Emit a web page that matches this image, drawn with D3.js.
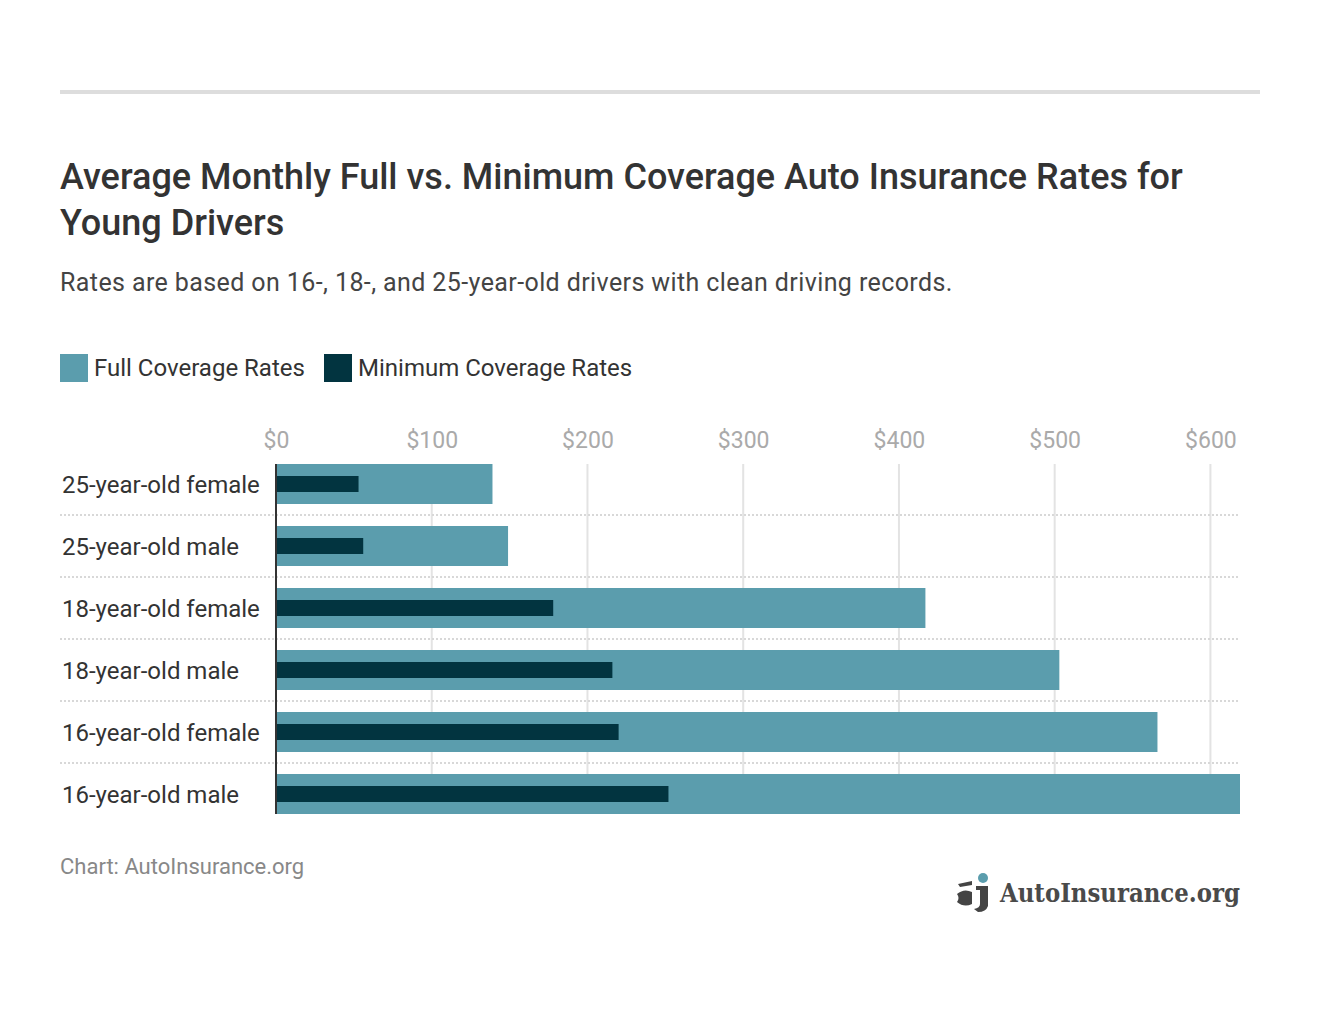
<!DOCTYPE html>
<html>
<head>
<meta charset="utf-8">
<script src="https://cdn.jsdelivr.net/npm/d3@7"></script>
<style>
  body { margin: 0; background: #fff; }
  text { font-family: Roboto, "Noto Sans", sans-serif; }
</style>
</head>
<body>
<div id="chart"></div>
<script>
// chart data
var categories = ["25-year-old female", "25-year-old male", "18-year-old female",
    "18-year-old male", "16-year-old female", "16-year-old male"];
var fullRates = [139, 149, 417, 503, 566, 619];
var minRates = [53, 56, 178, 216, 220, 252];
var tickValues = [0, 100, 200, 300, 400, 500, 600];
var seriesNames = ["Full Coverage Rates", "Minimum Coverage Rates"];

var svgWidth = 1320;
var svgHeight = 1024;

var margin = { top: 464, right: 80, bottom: 210, left: 276 };
var chartWidth = svgWidth - margin.left - margin.right;
var chartHeight = svgHeight - margin.top - margin.bottom;

var fullColor = "#5b9dad";
var minColor = "#023440";

var svg = d3.select("#chart")
    .append("svg")
    .attr("width", svgWidth)
    .attr("height", svgHeight);

// top rule
svg.append("rect")
    .attr("x", 60).attr("y", 90)
    .attr("width", 1200).attr("height", 4)
    .attr("fill", "#dddddd");

// title + subtitle
svg.append("text")
    .attr("x", 60).attr("y", 189)
    .attr("font-size", "36px").attr("font-weight", 500)
    .attr("fill", "#333")
    .text("Average Monthly Full vs. Minimum Coverage Auto Insurance Rates for");
svg.append("text")
    .attr("x", 60).attr("y", 235)
    .attr("font-size", "36px").attr("font-weight", 500)
    .attr("fill", "#333")
    .text("Young Drivers");
svg.append("text")
    .attr("x", 60).attr("y", 291)
    .attr("font-size", "25px")
    .attr("letter-spacing", "0.4px")
    .attr("fill", "#444")
    .text("Rates are based on 16-, 18-, and 25-year-old drivers with clean driving records.");

// legend
var legend = svg.append("g").attr("transform", "translate(60, 354)");
var legendX = [0, 264];
seriesNames.forEach(function (name, i) {
    var g = legend.append("g").attr("transform", `translate(${legendX[i]}, 0)`);
    g.append("rect")
        .attr("width", 28).attr("height", 28)
        .attr("fill", i === 0 ? fullColor : minColor);
    g.append("text")
        .attr("x", 34).attr("y", 22)
        .attr("font-size", "24px")
        .attr("fill", "#333")
        .text(name);
});

var chartGroup = svg.append("g")
    .attr("transform", `translate(${margin.left}, ${margin.top})`);

var xScale = d3.scaleLinear()
    .domain([0, 619])
    .range([0, 1240 - margin.left]);

// 62px row pitch, 40px bars
var yScale = d3.scaleBand()
    .domain(categories)
    .range([-11, chartHeight + 11])
    .paddingInner(22 / 62)
    .paddingOuter(11 / 62);

// vertical gridlines
chartGroup.append("g")
    .selectAll("line")
    .data(tickValues.slice(1))
    .enter()
    .append("line")
    .attr("x1", d => xScale(d)).attr("x2", d => xScale(d))
    .attr("y1", 0).attr("y2", chartHeight)
    .attr("stroke", "#e3e3e3")
    .attr("stroke-width", 2);

// tick labels on top
var topAxis = d3.axisTop(xScale)
    .tickValues(tickValues)
    .tickSize(0)
    .tickPadding(0)
    .tickFormat(d => "$" + d);
var axisG = chartGroup.append("g")
    .attr("transform", "translate(0, -16)")
    .call(topAxis);
axisG.select(".domain").remove();
axisG.selectAll("text")
    .attr("font-size", "23px")
    .attr("fill", "#aaaaaa");

// dotted row separators
chartGroup.append("g")
    .selectAll("line")
    .data(categories.slice(0, -1))
    .enter()
    .append("line")
    .attr("x1", 60 - margin.left).attr("x2", 1240 - margin.left)
    .attr("y1", d => yScale(d) + yScale.bandwidth() + 11)
    .attr("y2", d => yScale(d) + yScale.bandwidth() + 11)
    .attr("stroke", "#d8d8d8")
    .attr("stroke-width", 2)
    .attr("stroke-dasharray", "2,2");

// full coverage bars
chartGroup.append("g")
    .selectAll("rect")
    .data(categories)
    .enter()
    .append("rect")
    .attr("x", 0)
    .attr("y", d => yScale(d))
    .attr("width", (d, i) => xScale(fullRates[i]))
    .attr("height", yScale.bandwidth())
    .attr("fill", fullColor);

// minimum coverage bars
chartGroup.append("g")
    .selectAll("rect")
    .data(categories)
    .enter()
    .append("rect")
    .attr("x", 0)
    .attr("y", d => yScale(d) + yScale.bandwidth() * 0.3)
    .attr("width", (d, i) => xScale(minRates[i]))
    .attr("height", yScale.bandwidth() * 0.4)
    .attr("fill", minColor);

// row labels
chartGroup.append("g")
    .selectAll("text")
    .data(categories)
    .enter()
    .append("text")
    .attr("x", 62 - margin.left)
    .attr("y", d => yScale(d) + yScale.bandwidth() / 2 + 8.5)
    .attr("font-size", "24px")
    .attr("fill", "#333")
    .text(d => d);

// zero axis line
chartGroup.append("line")
    .attr("x1", 0).attr("x2", 0)
    .attr("y1", 0).attr("y2", chartHeight)
    .attr("stroke", "#333")
    .attr("stroke-width", 2);

// source
svg.append("text")
    .attr("x", 60).attr("y", 874)
    .attr("font-size", "22px")
    .attr("fill", "#888")
    .text("Chart: AutoInsurance.org");

// logo
var logo = svg.append("g").attr("transform", "translate(956, 872)");
logo.append("circle").attr("cx", 27).attr("cy", 6).attr("r", 5).attr("fill", "#5b9dad");
logo.append("path")
    .attr("d", "M2,12 L16,9 L16,13 L4,15 Z M1,22 Q8,16 16,20 L16,32 Q8,36 1,30 Q4,26 1,22 Z")
    .attr("fill", "#444");
logo.append("path")
    .attr("d", "M20,14 L32,14 L32,34 Q30,40 22,40 L18,37 Q24,36 24,32 L24,18 L20,18 Z")
    .attr("fill", "#444");
svg.append("text")
    .attr("x", 1000).attr("y", 902)
    .style("font-family", "'DejaVu Serif', 'Liberation Serif', serif")
    .style("font-size", "26px")
    .style("font-weight", "bold")
    .attr("fill", "#4a4a4a")
    .attr("textLength", 240)
    .attr("lengthAdjust", "spacingAndGlyphs")
    .text("AutoInsurance.org");
</script>
</body>
</html>
